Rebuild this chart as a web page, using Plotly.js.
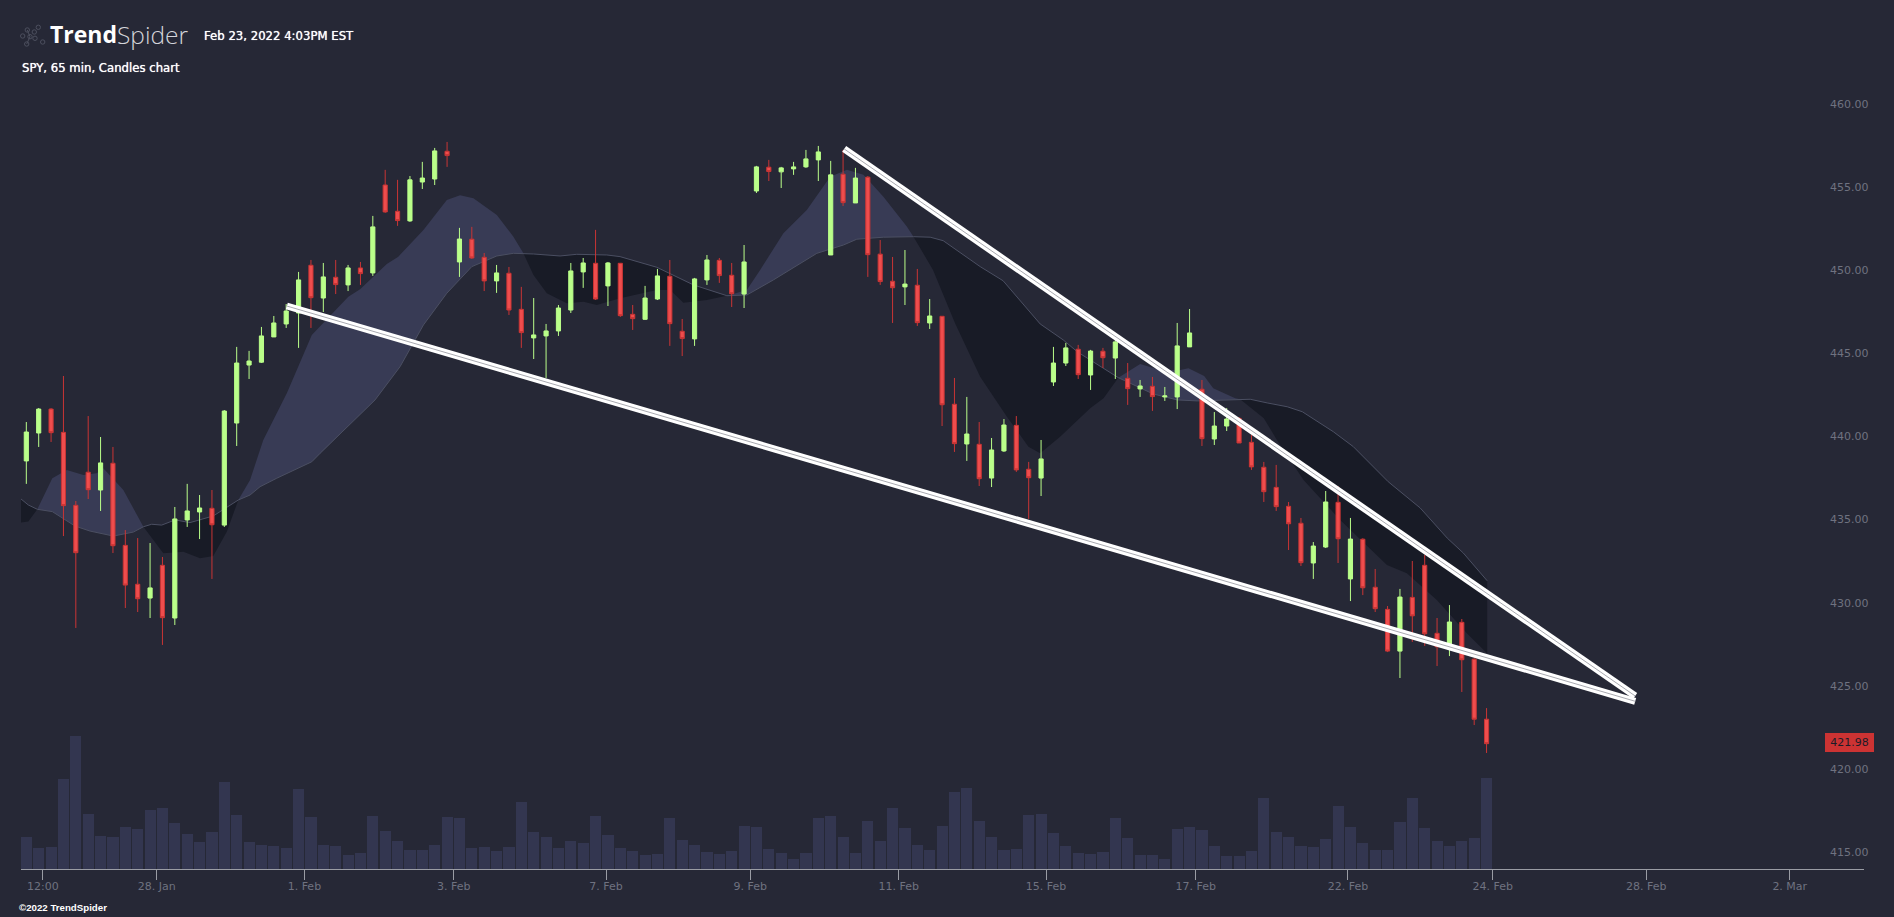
<!DOCTYPE html>
<html><head><meta charset="utf-8"><title>SPY</title>
<script src="https://cdn.plot.ly/plotly-3.0.1.min.js"></script>
<style>html,body{margin:0;padding:0;background:#262836;overflow:hidden}#c{width:1894px;height:917px}</style>
</head><body><div id="c"></div>
<script>
// Candles (SPY, 65 min)
const opens=[438.59,440.27,441.71,440.31,435.92,437.91,436.84,438.45,433.51,431.17,430.34,432.31,429.14,435.04,435.52,435.74,434.73,440.87,444.36,444.53,446.05,446.83,447.49,450.36,448.39,449.64,449.18,450.20,449.90,455.19,453.61,453.03,455.37,455.55,457.22,450.56,451.93,450.84,449.42,449.88,447.71,445.99,446.11,446.41,447.67,449.96,450.48,449.12,450.48,447.41,447.11,448.33,449.70,446.39,445.93,449.48,450.66,449.76,448.63,454.83,456.26,455.98,456.16,456.28,456.70,450.98,455.84,454.11,455.66,451.03,449.40,449.06,449.16,446.89,447.29,442.00,439.61,439.59,437.56,439.19,440.73,438.09,437.56,443.34,444.48,445.31,443.76,445.19,444.78,443.56,442.92,443.08,442.44,442.44,445.45,442.90,439.91,440.69,441.15,439.71,438.21,437.00,435.86,434.84,432.45,433.41,436.10,431.49,433.88,430.99,429.66,427.15,430.38,432.31,428.22,427.41,428.88,426.66,423.05];
const highs=[440.93,441.77,441.77,443.70,436.18,441.29,440.03,439.43,434.43,433.95,433.65,432.81,435.82,437.21,436.54,436.84,441.65,445.45,445.21,446.65,447.31,448.03,449.96,450.68,450.50,450.68,450.38,450.56,453.33,456.10,455.50,455.73,456.58,457.42,457.78,452.61,452.67,451.10,450.38,450.26,449.06,448.39,446.83,447.97,450.50,450.80,452.49,450.56,450.50,447.97,449.12,450.14,450.68,447.13,449.60,450.98,450.80,450.50,451.58,456.34,456.70,456.28,456.58,457.30,457.54,456.64,457.30,456.22,455.73,451.88,450.86,451.28,450.14,448.33,447.31,443.58,442.44,440.93,439.97,441.11,441.29,438.53,439.85,445.45,445.69,445.57,445.27,445.39,445.87,444.48,443.46,443.64,443.04,446.89,447.73,443.46,441.53,441.77,441.23,440.15,438.53,438.35,436.12,435.16,433.71,436.78,437.08,435.16,433.94,432.09,429.86,430.89,432.57,432.93,429.14,429.92,429.08,426.73,423.72];
const lows=[437.21,439.43,439.73,434.07,428.54,436.30,435.58,433.05,429.74,429.50,429.14,427.52,428.72,434.62,433.89,431.49,434.62,439.49,443.52,444.48,446.05,446.59,445.39,446.59,447.55,448.63,448.81,449.18,449.72,453.51,452.73,452.97,454.95,455.19,456.28,449.66,450.74,448.81,448.70,447.37,445.39,444.72,443.58,446.11,447.49,449.00,448.27,447.91,447.25,446.47,447.07,448.27,445.51,444.90,445.51,449.18,449.30,447.85,447.79,454.71,455.43,455.01,455.80,456.22,455.43,450.98,453.93,454.11,449.66,449.18,446.89,447.97,446.71,446.53,440.69,439.13,438.59,437.08,437.02,439.13,437.93,435.10,436.48,443.10,444.30,443.52,442.86,444.18,443.52,441.96,442.44,441.60,442.20,441.71,445.45,439.49,439.55,440.39,439.67,438.05,436.12,435.58,433.23,432.27,431.49,433.35,432.45,430.16,430.52,429.50,427.09,425.53,427.70,427.46,426.25,426.85,424.69,422.70,421.02];
const closes=[440.33,441.71,440.29,435.90,433.07,436.86,438.47,433.49,431.12,430.30,430.95,429.16,435.10,435.58,435.76,434.75,441.59,444.48,444.60,446.11,446.89,447.61,449.48,448.41,449.66,449.20,450.20,449.86,452.67,453.57,453.05,455.50,455.61,457.24,456.96,451.94,450.80,449.42,449.90,447.67,446.31,446.17,446.41,447.79,450.02,450.50,448.33,450.50,447.33,447.15,448.39,449.72,446.85,445.95,449.54,450.68,449.74,448.65,450.56,456.28,456.00,456.22,456.28,456.76,457.18,455.80,454.13,455.61,451.00,449.38,449.01,449.23,446.91,447.31,441.97,439.63,440.21,437.52,439.25,440.75,438.05,437.58,438.71,444.48,445.39,443.78,445.20,444.80,445.75,442.94,443.10,442.46,442.50,445.51,446.29,439.93,440.69,441.11,439.67,438.23,436.74,435.84,434.81,432.47,433.47,436.12,433.91,433.89,430.96,429.70,427.15,430.40,429.27,428.19,427.41,428.90,426.63,423.05,421.58];
const volumes=[9.6,6.3,6.6,27.0,40.0,16.5,9.9,9.6,12.6,12.0,17.7,18.3,13.8,10.5,8.1,11.1,26.1,16.2,8.1,7.2,6.9,6.3,24.0,15.6,7.2,6.9,4.2,4.8,15.9,11.4,8.4,5.7,5.7,7.2,15.6,15.3,6.3,6.6,5.4,6.6,20.1,11.1,9.6,6.3,8.4,7.8,15.9,10.2,6.3,5.4,4.2,4.5,15.3,8.7,7.2,5.1,4.5,5.4,12.9,12.6,6.0,4.8,3.0,4.8,15.3,15.9,9.6,4.8,14.4,8.4,18.3,12.3,7.2,5.7,12.9,23.1,24.3,14.4,9.6,5.7,6.0,16.2,16.5,10.8,6.9,4.8,4.5,5.1,15.3,9.3,4.2,4.2,3.0,12.0,12.6,11.7,6.9,3.9,3.9,5.4,21.3,11.1,9.6,6.9,6.6,9.0,18.9,12.6,7.8,5.7,5.7,14.1,21.3,12.3,8.4,6.9,8.4,9.3,27.3];
// Moving-average ribbon: candle position and price at each read point
const slowPos=[-0.43,0.16,0.89,2.10,3.94,5.15,7.03,8.65,9.46,10.13,10.94,12.02,13.23,15.11,17.13,18.08,18.89,20.24,23.07,23.74,28.18,30.20,32.09,33.98,36.00,38.02,39.36,40.17,40.98,43.13,44.48,46.91,47.98,50.95,53.91,56.61,58.22,60.37,63.88,66.03,67.11,69.26,71.69,73.04,74.09,77.08,78.93,81.93,83.79,84.92,88.24,91.06,93.00,94.62,96.72,98.09,98.90,100.27,101.89,103.11,105.61,107.23,110.05,112.64,114.82,116.12,118.05];
const slowVal=[436.30,435.94,435.68,435.54,434.67,434.37,434.07,434.31,434.63,434.78,434.73,435.04,434.88,435.28,436.24,436.54,437.04,437.55,438.54,439.05,442.26,444.26,446.77,448.68,450.28,450.92,451.08,451.08,451.04,450.92,451.02,450.98,450.88,450.24,449.18,448.53,448.57,449.48,451.08,451.58,451.93,452.05,452.08,452.05,451.84,450.28,449.43,446.83,445.87,445.16,443.60,442.62,442.26,442.20,442.26,442.30,442.30,442.08,441.85,441.55,440.35,439.45,437.34,435.76,433.95,433.05,431.38];
const fastPos=[-0.43,0.16,0.89,2.10,3.27,4.61,5.69,6.22,7.84,9.46,11.07,12.69,14.04,15.11,16.20,17.13,18.08,19.15,21.05,23.07,26.02,26.97,29.13,30.06,32.09,33.98,35.05,36.13,38.02,39.36,40.17,40.98,42.06,43.67,45.02,46.10,47.98,50.95,52.02,53.10,54.99,56.61,58.22,59.30,61.18,63.07,64.96,66.31,67.65,69.26,71.15,71.69,73.27,75.05,77.08,79.24,80.98,81.93,83.54,85.97,87.05,88.24,90.01,91.63,93.24,93.91,95.18,95.91,97.69,98.09,100.00,101.06,103.21,106.17,109.95,111.56,113.98,116.41,118.05];
const fastVal=[434.88,434.94,435.68,437.55,438.05,437.74,437.85,438.15,436.84,434.63,433.03,433.13,432.73,432.87,434.33,436.24,437.44,439.85,442.66,446.17,448.47,448.92,450.44,450.88,452.49,454.29,454.57,454.39,453.39,452.08,451.08,449.78,448.68,448.08,448.17,447.97,448.38,448.87,448.87,448.11,448.27,448.53,448.87,450.08,452.29,453.69,455.69,456.10,455.80,454.49,452.69,452.08,450.08,446.87,443.66,441.25,439.45,439.05,440.05,441.76,442.36,443.60,444.42,444.06,444.06,444.17,443.70,442.96,442.36,442.30,441.16,439.85,437.44,435.04,432.33,431.83,430.22,428.22,427.01];
const crossings=[-0.43,0.89,9.46,17.13,40.17,56.61,71.69,88.24,98.09,118.05];
// Two hand-drawn trendlines
const lowerLinePos=[21.05,130.01], lowerLineVal=[447.91,424.13];
const upperLinePos=[66.09,130.01], upperLineVal=[457.36,424.45];
// Axis labels
const xTickPos=[1.33,10.53,22.47,34.54,46.85,58.5,70.5,82.4,94.5,106.8,118.5,130.9,142.5];
const xTickText=['12:00','28. Jan','1. Feb','3. Feb','7. Feb','9. Feb','11. Feb','15. Feb','17. Feb','22. Feb','24. Feb','28. Feb','2. Mar'];
const yTickVals=[415,420,425,430,435,440,445,450,455,460];
const lastPriceText='421.98';

const W=1894,H=917,mL=21,mR=25,mT=60,mB=48;
const px=x=>(x-mL)/(W-mL-mR), py=y=>1-(y-mT)/(H-mT-mB);
const priceRange=[414.04,462.71], xRange=[-0.43,148.5];
const indexes=opens.map((_,i)=>i);
const LIGHT='#383b55',DARK='#181b26',BG='#262836',AXIS='#9a9ca4',TXT='#6f7280';

const traces=[];
for(let s=0;s<crossings.length-1;s++){
  const a=crossings[s],b=crossings[s+1];
  const fx=[],fy=[],sx=[],sy=[];
  fastPos.forEach((p,i)=>{if(p>=a&&p<=b){fx.push(p);fy.push(fastVal[i]);}});
  slowPos.forEach((p,i)=>{if(p>=a&&p<=b){sx.push(p);sy.push(slowVal[i]);}});
  traces.push({type:'scatter',mode:'lines',x:fx.concat(sx.reverse()),y:fy.concat(sy.reverse()),fill:'toself',
    fillcolor:s%2?LIGHT:DARK,line:{width:0},hoverinfo:'skip',xaxis:'x',yaxis:'y'});
}
traces.push({type:'scatter',mode:'lines',x:slowPos,y:slowVal,line:{color:'#4b4f62',width:1},hoverinfo:'skip',xaxis:'x',yaxis:'y'});
traces.push({type:'bar',x:indexes,y:volumes,width:0.9,marker:{color:'#333650',line:{width:0}},xaxis:'x',yaxis:'y2'});
traces.push({type:'candlestick',x:indexes,open:opens,high:highs,low:lows,close:closes,whiskerwidth:0,
  increasing:{line:{color:'#baff8a',width:1},fillcolor:'#baff8a'},
  decreasing:{line:{color:'#c93535',width:1},fillcolor:'#ef4d4d'},xaxis:'x',yaxis:'y3'});
[[lowerLinePos,lowerLineVal],[upperLinePos,upperLineVal]].forEach(([a,b])=>{
  traces.push({type:'scatter',mode:'lines',x:a,y:b,line:{color:'#ffffff',width:7},hoverinfo:'skip',xaxis:'x',yaxis:'y4'});
  traces.push({type:'scatter',mode:'lines',x:a,y:b,line:{color:'#a8a9b0',width:1},hoverinfo:'skip',xaxis:'x',yaxis:'y4'});
});

const glow='0 0 0.7px #ffffff';
const note=(t,x,y,o)=>Object.assign({text:t,xref:'paper',yref:'paper',x:px(x),y:py(y),xanchor:'left',yanchor:'middle',showarrow:false,borderpad:0,borderwidth:0},o);
const annotations=[
  note('Trend',50,34,{font:{family:'Open Sans',size:23,color:'#ffffff',weight:700}}),
  note('Spider',117,34,{font:{family:'Open Sans',size:24.5,color:'#d4d5da',weight:300}}),
  note('Feb 23, 2022 4:03PM EST',203.5,35.5,{font:{family:'DejaVu Sans',size:11.7,color:'#ffffff',shadow:glow}}),
  note('SPY, 65 min, Candles chart',22,68,{font:{family:'DejaVu Sans',size:11.7,color:'#ffffff',shadow:glow}}),
  note('©2022 TrendSpider',19,907,{font:{family:'Liberation Sans',size:9.7,color:'#ffffff',weight:700}}),
  note(lastPriceText,1849.5,742.5,{xanchor:'center',width:49,height:19,bgcolor:'#cc3333',font:{family:'DejaVu Sans',size:11,color:'#1a1c28'}})
];
const logoDots=[[22.7,36],[27.3,30],[34.3,32],[38.3,27.3],[35,38.3],[42.7,42],[26.7,44],[30,36.7]];
const shapes=logoDots.map(([x,y])=>({type:'circle',xref:'paper',yref:'paper',x0:px(x-2.2),x1:px(x+2.2),y0:py(y+2.2),y1:py(y-2.2),line:{color:'#4c4f5e',width:1}}));
const logoLinks=[[1,7],[7,6]];
logoLinks.forEach(([a,b])=>shapes.push({type:'line',xref:'paper',yref:'paper',x0:px(logoDots[a][0]),x1:px(logoDots[b][0]),y0:py(logoDots[a][1]),y1:py(logoDots[b][1]),line:{color:'#4c4f5e',width:1}}));

const hiddenY=(range)=>({range,overlaying:'y',visible:false,fixedrange:true,anchor:'x',showgrid:false,zeroline:false});
const layout={width:W,height:H,autosize:false,showlegend:false,paper_bgcolor:BG,plot_bgcolor:BG,
  margin:{l:mL,r:mR,t:mT,b:mB,pad:0},bargap:0,boxgap:0.52,annotations,shapes,
  xaxis:{domain:[0,px(1864)],range:xRange,type:'linear',fixedrange:true,rangeslider:{visible:false},showgrid:false,zeroline:false,
    showline:true,linecolor:AXIS,linewidth:1,ticks:'outside',ticklen:10,tickwidth:1,tickcolor:AXIS,tickmode:'array',tickvals:xTickPos,ticktext:xTickText,
    ticklabelstandoff:-3,tickfont:{family:'DejaVu Sans',size:11,color:TXT}},
  yaxis:{range:priceRange,anchor:'free',position:px(1829),side:'right',fixedrange:true,showgrid:false,zeroline:false,showline:false,ticks:'',ticklabelshift:-1,
    tickmode:'array',tickvals:yTickVals,ticktext:yTickVals.map(v=>v.toFixed(2)),tickfont:{family:'DejaVu Sans',size:11,color:TXT}},
  yaxis2:hiddenY([0,242.7]),
  yaxis3:hiddenY(priceRange),
  yaxis4:hiddenY(priceRange)
};
Plotly.newPlot('c',traces,layout,{staticPlot:true,displayModeBar:false,responsive:false});
</script></body></html>
